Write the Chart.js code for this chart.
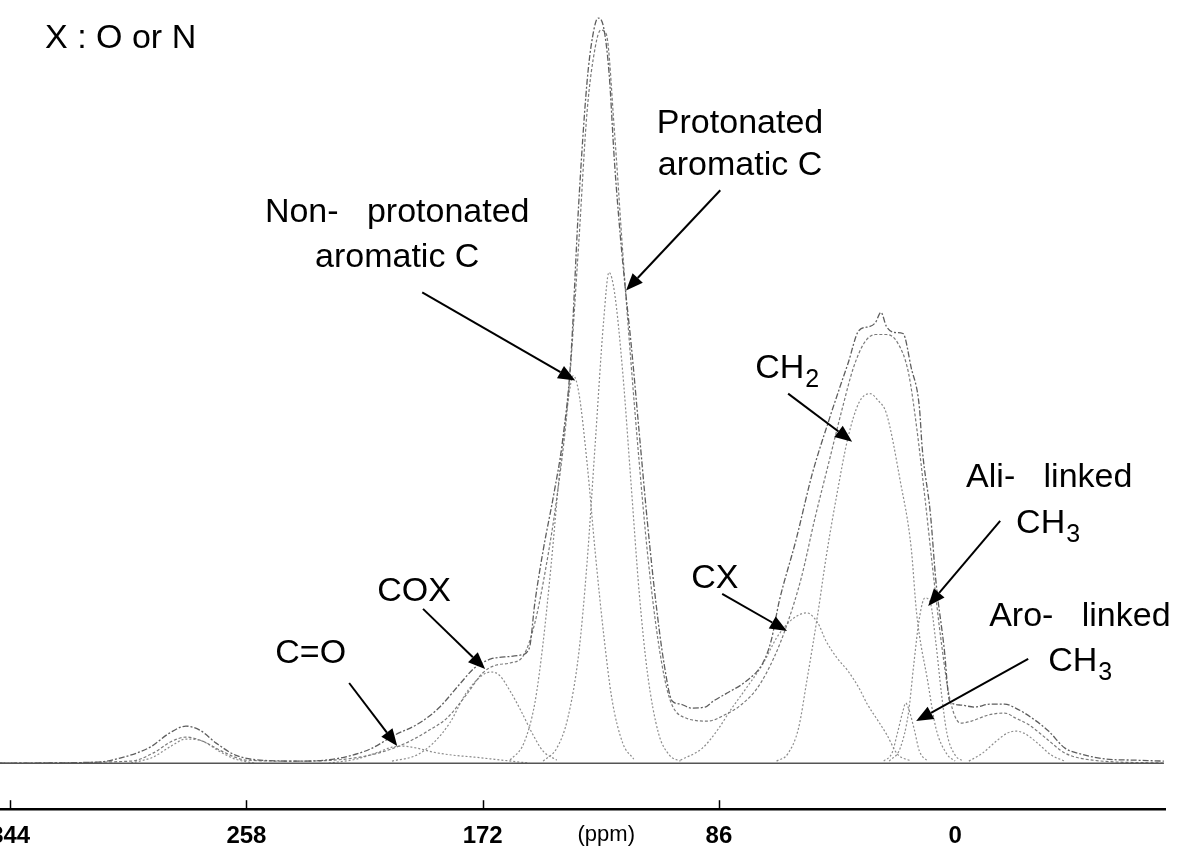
<!DOCTYPE html>
<html>
<head>
<meta charset="utf-8">
<title>13C NMR</title>
<script src="https://cdn.jsdelivr.net/npm/chart.js"></script>
<style>
  html, body { margin: 0; padding: 0; background: #fff; }
  #wrap { width: 1195px; height: 866px; }
</style>
</head>
<body>
<div id="wrap"><canvas id="nmr" width="1195" height="866"></canvas></div>
<script>
// axis ticks (ppm) and their labels
const tickPpm = [344, 258, 172, 127, 86, 0];
const tickText = ['344', '258', '172', '(ppm)', '86', '0'];
const markPpm = [344, 258, 172, 86];

// measured spectrum
const expPpm = [348, 312, 304, 293, 286, 280, 275, 269, 262, 253, 238, 224, 213, 204, 195, 188, 180, 175, 169, 164, 158, 155, 153, 150, 146, 143, 140, 137, 134, 132, 130, 128, 126, 124, 122, 120, 118, 115, 112, 109, 106, 103, 100, 96, 91, 88, 83, 76, 70, 67, 64, 58, 52, 46, 42, 39, 35, 31, 29, 27, 25, 22, 19, 16, 13, 12, 9, 7, 4, 2, -2, -7, -13, -18, -22, -28, -34, -40, -46, -55, -65, -76];
const expVal = [0, 1, 5, 16, 30, 37, 33, 20, 8, 3, 2, 5, 14, 28, 40, 55, 80, 95, 104, 106, 108, 115, 160, 212, 270, 320, 400, 560, 680, 725, 744, 735, 690, 600, 530, 472, 420, 330, 240, 162, 100, 62, 59, 55, 56, 62, 70, 82, 100, 122, 162, 222, 289, 342, 375, 399, 432, 436, 440, 450, 436, 430, 429, 395, 355, 315, 249, 182, 115, 62, 58, 56, 59, 59, 55, 45, 32, 15, 9, 4, 3, 2];

// sum of fitted peaks
const fitPpm = [348, 300, 292, 285, 280, 274, 267, 258, 240, 222, 210, 200, 192, 185, 178, 172, 167, 162, 157, 153, 149, 145, 141, 137, 134, 131, 129, 127, 124, 121, 118, 115, 112, 108, 104, 98, 90, 84, 78, 72, 66, 61, 56, 51, 46, 41, 37, 33, 29, 25, 21, 17, 14, 11, 8, 5, 2, -2, -6, -12, -18, -22, -27, -33, -40, -50, -76];
const fitVal = [0, 2, 10, 22, 26, 22, 12, 3, 2, 4, 10, 20, 32, 45, 68, 90, 98, 100, 108, 140, 195, 265, 360, 520, 650, 715, 732, 728, 630, 510, 400, 300, 210, 120, 65, 45, 42, 48, 58, 75, 105, 140, 185, 245, 300, 355, 395, 420, 428, 428, 420, 390, 335, 265, 190, 120, 65, 40, 42, 48, 50, 45, 38, 25, 10, 3, 0];

// fitted components
const ssbPpm = [300, 292, 286, 280, 274, 268, 262, 255];
const ssbVal = [0, 6, 16, 24, 22, 12, 4, 0];
const coPpm = [228, 218, 210, 205, 201, 196, 190, 183, 175, 165, 155];
const coVal = [0, 4, 11, 16, 17, 15, 11, 8, 6, 3, 0];
const coxPpm = [205, 196, 190, 184, 178, 172, 169, 166, 162, 158, 154, 150, 145];
const coxVal = [2, 8, 20, 40, 70, 88, 91, 88, 72, 52, 30, 12, 3];
const nonProtPpm = [162, 157, 153, 150, 147, 144, 141, 139, 137, 134, 131, 128, 125, 121, 117];
const nonProtVal = [3, 20, 60, 120, 200, 290, 360, 387, 370, 300, 210, 130, 65, 20, 4];
const protPpm = [150, 145, 141, 137, 134, 131, 128, 126, 124, 121, 118, 115, 112, 108, 104, 100];
const protVal = [2, 15, 45, 110, 200, 320, 440, 490, 470, 390, 280, 170, 90, 30, 8, 2];
const cxPpm = [100, 92, 86, 82, 76, 70, 65, 60, 56, 54, 50, 47, 43, 39, 35, 32, 28, 25, 21, 16];
const cxVal = [3, 15, 35, 52, 75, 99, 125, 142, 149, 150, 140, 122, 105, 92, 75, 59, 42, 29, 9, 2];
const ch2Ppm = [65, 61, 57, 54, 50, 47, 43, 39, 35, 31, 28, 25, 20, 16, 14, 10, 7, 3, 0];
const ch2Val = [2, 9, 35, 82, 149, 205, 269, 325, 360, 369, 362, 349, 282, 215, 149, 82, 35, 9, 2];
const aliCh3Ppm = [24, 20, 17, 15, 13, 11, 9, 7, 5, 3, 0, -3];
const aliCh3Val = [2, 15, 50, 100, 145, 165, 160, 120, 70, 30, 8, 2];
const aroCh3Ppm = [26, 23, 21, 19, 18, 17, 15, 13, 10];
const aroCh3Val = [2, 10, 30, 52, 60, 55, 35, 12, 2];
const upPpm = [-5, -10, -15, -19, -22, -25, -30, -35, -40];
const upVal = [2, 10, 22, 30, 32, 30, 20, 8, 2];
const basePpm = [348, -76];
const baseVal = [0, 0];

// annotations, in ppm / intensity units
const labels = [
  { text: 'X : O or N', ppm: 331.3, val: 714, align: 'left' },
  { text: 'Protonated', ppm: 78.3, val: 629, align: 'center' },
  { text: 'aromatic C', ppm: 78.3, val: 587, align: 'center' },
  { text: 'Non-   protonated', ppm: 203.1, val: 540, align: 'center' },
  { text: 'aromatic C', ppm: 203.1, val: 495, align: 'center' },
  { text: 'CH', sub: '2', ppm: 72.8, val: 385, align: 'left' },
  { text: 'Ali-   linked', ppm: -4.0, val: 276, align: 'left' },
  { text: 'CH', sub: '3', ppm: -22.2, val: 230, align: 'left' },
  { text: 'Aro-   linked', ppm: -12.4, val: 137, align: 'left' },
  { text: 'CH', sub: '3', ppm: -33.9, val: 92, align: 'left' },
  { text: 'COX', ppm: 210.4, val: 162, align: 'left' },
  { text: 'C=O', ppm: 247.5, val: 100, align: 'left' },
  { text: 'CX', ppm: 96.1, val: 175, align: 'left' }
];
const arrows = [
  { from: [85.5, 572], to: [119.8, 472] },
  { from: [194.0, 470], to: [138.3, 382] },
  { from: [60.8, 369], to: [37.5, 321] },
  { from: [-16.4, 242], to: [9.8, 157] },
  { from: [-26.6, 104], to: [14.2, 42] },
  { from: [84.8, 169], to: [61.2, 132] },
  { from: [193.7, 154], to: [171.1, 94] },
  { from: [220.6, 80], to: [203.1, 17] }
];

function pts(xs, ys) {
  return xs.map((x, i) => ({ x: x, y: ys[i] }));
}

function curve(label, xs, ys, color, dash, width) {
  return {
    label: label,
    data: pts(xs, ys),
    borderColor: color,
    borderDash: dash,
    borderWidth: width,
    pointRadius: 0,
    fill: false,
    cubicInterpolationMode: 'monotone'
  };
}

const compColor = '#8c8c8c';
const compDash = [2, 2];

const notesPlugin = {
  id: 'notes',
  afterDraw(chart) {
    const ctx = chart.ctx;
    const xs = chart.scales.x, ys = chart.scales.y;
    ctx.save();

    // tick marks pointing up from the axis
    const bottom = chart.chartArea.bottom;
    ctx.strokeStyle = '#000';
    ctx.lineWidth = 1.5;
    markPpm.forEach(p => {
      const x = Math.round(xs.getPixelForValue(p)) + 0.5;
      ctx.beginPath();
      ctx.moveTo(x, bottom);
      ctx.lineTo(x, bottom - 9);
      ctx.stroke();
    });

    // arrows
    ctx.fillStyle = '#000';
    ctx.lineWidth = 2;
    arrows.forEach(a => {
      const x1 = xs.getPixelForValue(a.from[0]), y1 = ys.getPixelForValue(a.from[1]);
      const x2 = xs.getPixelForValue(a.to[0]), y2 = ys.getPixelForValue(a.to[1]);
      const ang = Math.atan2(y2 - y1, x2 - x1);
      const len = 17, half = 7;
      const bx = x2 - len * Math.cos(ang), by = y2 - len * Math.sin(ang);
      ctx.beginPath();
      ctx.moveTo(x1, y1);
      ctx.lineTo(bx, by);
      ctx.stroke();
      ctx.beginPath();
      ctx.moveTo(x2, y2);
      ctx.lineTo(bx + half * Math.sin(ang), by - half * Math.cos(ang));
      ctx.lineTo(bx - half * Math.sin(ang), by + half * Math.cos(ang));
      ctx.closePath();
      ctx.fill();
    });

    // text
    ctx.textBaseline = 'alphabetic';
    labels.forEach(l => {
      const x = xs.getPixelForValue(l.ppm), y = ys.getPixelForValue(l.val);
      ctx.font = '34px "Liberation Sans", Arial, sans-serif';
      ctx.textAlign = l.align;
      ctx.fillText(l.text, x, y);
      if (l.sub) {
        const w = ctx.measureText(l.text).width;
        ctx.font = '25px "Liberation Sans", Arial, sans-serif';
        ctx.textAlign = 'left';
        ctx.fillText(l.sub, x + w + 1, y + 9);
      }
    });
    ctx.restore();
  }
};

new Chart(document.getElementById('nmr'), {
  type: 'line',
  data: {
    datasets: [
      curve('baseline', basePpm, baseVal, '#555', [], 1.5),
      curve('measured', expPpm, expVal, '#5e5e5e', [6, 2, 2, 2], 1.3),
      curve('fit sum', fitPpm, fitVal, '#7a7a7a', [3, 2], 1.2),
      curve('SSB', ssbPpm, ssbVal, compColor, compDash, 1.2),
      curve('C=O', coPpm, coVal, compColor, compDash, 1.2),
      curve('COX', coxPpm, coxVal, compColor, compDash, 1.2),
      curve('Non-protonated aromatic C', nonProtPpm, nonProtVal, compColor, compDash, 1.2),
      curve('Protonated aromatic C', protPpm, protVal, compColor, compDash, 1.2),
      curve('CX', cxPpm, cxVal, compColor, compDash, 1.2),
      curve('CH2', ch2Ppm, ch2Val, compColor, compDash, 1.2),
      curve('Ali-linked CH3', aliCh3Ppm, aliCh3Val, compColor, compDash, 1.2),
      curve('Aro-linked CH3', aroCh3Ppm, aroCh3Val, compColor, compDash, 1.2),
      curve('upfield', upPpm, upVal, compColor, compDash, 1.2)
    ]
  },
  options: {
    responsive: false,
    animation: false,
    events: [],
    layout: { padding: { left: 0, right: 30, top: 0, bottom: 2 } },
    plugins: { legend: { display: false }, tooltip: { enabled: false } },
    scales: {
      x: {
        type: 'linear',
        reverse: true,
        min: -76.4,
        max: 347.7,
        afterBuildTicks: (scale) => {
          scale.ticks = tickPpm.map(v => ({ value: v }));
        },
        afterFit: (scale) => {
          scale.paddingLeft = 0;
          scale.paddingRight = 0;
        },
        grid: { display: false, drawTicks: false },
        border: { display: true, color: '#000', width: 2.5 },
        ticks: {
          autoSkip: false,
          maxRotation: 0,
          padding: 13,
          color: '#000',
          font: (c) => (c.tick && c.tick.value === 127)
            ? { family: '"Liberation Sans", Arial, sans-serif', size: 22, weight: 'normal' }
            : { family: '"Liberation Sans Narrow", "Liberation Sans", Arial, sans-serif', size: 24, weight: 'bold' },
          callback: (v) => tickText[tickPpm.indexOf(v)]
        }
      },
      y: {
        display: false,
        min: -46,
        max: 762
      }
    }
  },
  plugins: [notesPlugin]
});
</script>
</body>
</html>
